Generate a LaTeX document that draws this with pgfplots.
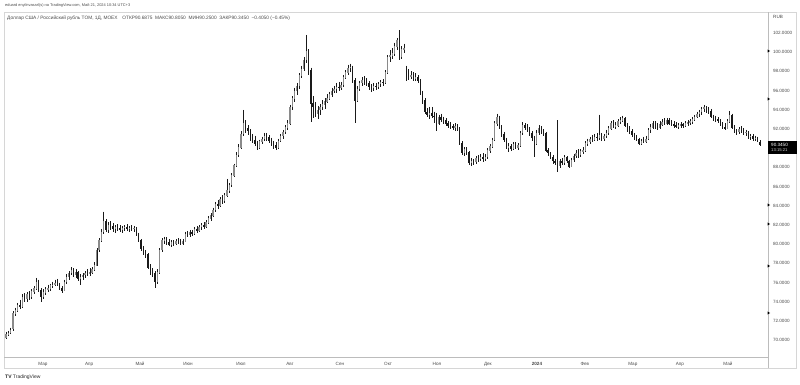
\documentclass[border=0pt]{standalone}
\usepackage{fontspec}
\setmainfont{Liberation Sans}
\usepackage{pgfplots}
\usepackage{pgfplotstable}
\pgfplotsset{compat=1.18}
\definecolor{txt}{HTML}{4A4A4A}
\definecolor{brd}{HTML}{D6D6D6}
\definecolor{upc}{HTML}{8A8A8A}
\definecolor{dnc}{HTML}{1A1A1A}
\pgfplotstableread{
i o h l c
0 70.3 70.9 70.1 70.6
1 70.6 71.0 70.4 70.8
2 70.8 71.3 70.6 71.1
3 71.2 73.0 71.0 72.8
4 72.8 73.4 72.5 73.1
5 73.1 73.9 72.9 73.7
6 73.7 74.2 73.3 73.5
7 73.5 74.8 73.4 74.5
8 74.5 74.9 74.0 74.3
9 74.3 75.0 74.0 74.8
10 74.8 75.1 74.2 74.5
11 74.5 75.3 74.3 75.1
12 75.1 75.6 74.8 75.4
13 75.4 76.5 75.2 76.1
14 76.1 76.3 75.0 75.2
15 75.2 75.4 74.0 74.5
16 74.5 75.3 74.3 75.0
17 75.0 75.5 74.7 75.3
18 75.3 75.8 75.0 75.4
19 75.4 75.9 75.1 75.7
20 75.7 76.1 75.4 75.8
21 75.8 76.3 75.6 76.0
22 76.0 76.4 75.6 75.8
23 75.8 76.0 75.2 75.4
24 75.4 75.6 74.9 75.2
25 75.2 76.3 75.1 76.1
26 76.1 76.9 75.9 76.6
27 76.6 77.2 76.3 77.0
28 77.0 77.6 76.8 77.3
29 77.3 77.5 76.6 76.8
30 76.8 77.4 76.5 77.1
31 77.1 77.2 76.2 76.4
32 76.4 76.9 75.8 76.6
33 76.6 77.0 76.3 76.8
34 76.8 77.2 76.5 77.0
35 77.0 77.4 76.7 76.9
36 76.9 77.5 76.7 77.1
37 77.1 77.6 76.9 77.4
38 77.4 78.1 77.2 77.8
39 77.8 79.6 77.7 79.4
40 79.4 80.6 79.2 80.4
41 80.4 81.6 80.2 81.3
42 81.3 83.4 81.1 82.4
43 82.4 82.6 81.3 81.5
44 81.5 82.3 81.2 82.0
45 82.0 82.4 81.5 81.9
46 81.9 82.2 81.3 81.6
47 81.6 82.0 81.2 81.8
48 81.8 82.1 81.4 81.7
49 81.7 82.0 81.3 81.5
50 81.5 81.9 81.2 81.7
51 81.7 82.0 81.4 81.8
52 81.8 82.1 81.4 81.6
53 81.6 81.9 81.3 81.7
54 81.7 82.0 81.4 81.6
55 81.6 81.9 81.3 81.7
56 81.7 81.8 80.9 81.1
57 81.1 81.2 80.2 80.4
58 80.4 80.5 79.3 79.5
59 79.5 79.8 78.9 79.2
60 79.2 79.4 78.6 79.0
61 79.0 79.1 77.4 77.6
62 77.6 77.9 76.8 77.3
63 77.3 77.5 76.6 77.0
64 77.0 77.2 75.4 76.1
65 76.1 77.4 75.9 77.1
66 77.1 79.6 76.9 79.4
67 79.4 80.6 79.2 80.4
68 80.4 80.8 80.0 80.5
69 80.5 80.7 79.9 80.2
70 80.2 80.5 79.8 80.0
71 80.0 80.4 79.7 80.2
72 80.2 80.4 79.8 80.1
73 80.1 80.5 79.9 80.3
74 80.3 80.6 80.0 80.2
75 80.2 80.5 79.9 80.1
76 80.1 80.5 79.9 80.3
77 80.3 81.3 80.2 81.1
78 81.1 81.4 80.8 81.0
79 81.0 81.5 80.7 81.3
80 81.3 81.5 80.9 81.1
81 81.1 81.8 81.0 81.6
82 81.6 81.9 81.2 81.4
83 81.4 82.0 81.3 81.8
84 81.8 82.2 81.5 82.0
85 82.0 82.3 81.6 81.8
86 81.8 82.5 81.7 82.3
87 82.3 82.9 82.1 82.7
88 82.7 83.2 82.4 83.0
89 83.0 83.8 82.8 83.6
90 83.6 84.4 83.4 84.2
91 84.2 84.6 83.7 84.0
92 84.0 84.9 83.9 84.7
93 84.7 85.1 84.2 84.5
94 84.5 85.3 84.3 85.1
95 85.1 86.8 84.9 85.6
96 85.6 86.4 85.3 86.2
97 86.2 87.4 86.0 87.2
98 87.2 88.4 87.0 88.2
99 88.2 89.6 88.0 89.3
100 89.3 90.4 89.1 90.1
101 90.1 91.8 89.9 91.5
102 91.5 94.0 91.3 92.6
103 92.6 92.9 91.6 92.1
104 92.1 92.4 91.4 91.8
105 91.8 92.0 90.8 91.1
106 91.1 91.5 90.5 90.9
107 90.9 91.3 90.2 90.5
108 90.5 90.8 89.8 90.1
109 90.1 90.9 89.9 90.7
110 90.7 91.2 90.4 91.0
111 91.0 91.6 90.7 91.3
112 91.3 91.6 90.8 91.2
113 91.2 91.4 90.5 90.8
114 90.8 91.1 90.2 90.5
115 90.5 90.8 89.9 90.3
116 90.3 90.6 89.8 90.1
117 90.1 91.0 89.9 90.8
118 90.8 91.5 90.6 91.3
119 91.3 91.9 91.0 91.7
120 91.7 92.4 91.5 92.2
121 92.2 92.9 91.9 92.6
122 92.6 94.5 92.4 94.3
123 94.3 95.4 94.0 95.2
124 95.2 96.3 94.8 96.0
125 96.0 96.8 95.5 96.5
126 96.5 97.8 96.2 97.6
127 97.6 98.6 97.3 98.3
128 98.3 99.5 98.0 99.2
129 99.2 101.8 98.9 100.1
130 100.1 100.3 97.6 98.1
131 98.1 98.4 92.7 94.7
132 94.7 95.4 93.1 94.3
133 94.3 94.8 93.2 93.6
134 93.6 94.4 93.0 94.0
135 94.0 94.6 93.5 94.3
136 94.3 95.0 94.0 94.6
137 94.6 95.2 94.1 94.9
138 94.9 95.6 94.7 95.2
139 95.2 95.9 95.0 95.6
140 95.6 96.3 95.3 96.0
141 96.0 96.5 95.7 96.2
142 96.2 96.8 95.8 96.4
143 96.4 96.9 96.0 96.3
144 96.3 96.9 96.1 96.6
145 96.6 97.6 96.4 97.4
146 97.4 98.1 97.2 97.9
147 97.9 98.7 97.6 98.4
148 98.4 98.8 97.9 98.5
149 98.5 98.6 96.8 97.1
150 97.1 97.3 92.6 95.0
151 95.0 96.5 94.8 96.2
152 96.2 97.0 96.0 96.8
153 96.8 97.4 96.5 97.1
154 97.1 97.5 96.6 96.9
155 96.9 97.3 96.5 96.8
156 96.8 97.0 96.1 96.4
157 96.4 96.7 95.9 96.3
158 96.3 96.8 96.0 96.5
159 96.5 96.8 96.1 96.4
160 96.4 96.9 96.2 96.7
161 96.7 97.1 96.4 96.9
162 96.9 97.2 96.5 96.8
163 96.8 98.1 96.7 97.9
164 97.9 99.7 97.7 99.5
165 99.5 100.2 99.0 99.7
166 99.7 100.4 99.3 99.9
167 99.9 101.0 99.6 100.6
168 100.6 101.5 100.2 101.3
169 101.3 102.3 99.2 99.5
170 99.5 100.6 99.3 100.3
171 100.3 100.9 99.9 100.4
172 98.3 98.6 97.0 97.8
173 97.8 98.2 97.1 97.5
174 97.5 98.0 97.2 97.6
175 97.6 97.9 97.0 97.3
176 97.3 97.8 97.0 97.4
177 97.4 97.6 96.8 97.1
178 97.1 97.2 95.5 95.8
179 95.8 96.0 94.6 95.0
180 95.0 95.2 93.6 93.8
181 93.8 94.2 93.2 93.5
182 93.5 94.3 93.0 93.7
183 93.7 94.3 93.1 93.4
184 93.4 93.8 92.6 93.3
185 93.3 93.7 91.8 92.6
186 92.6 93.5 92.4 93.3
187 93.3 93.6 92.7 93.0
188 93.0 93.3 92.5 92.9
189 92.9 93.1 92.3 92.6
190 92.6 92.8 92.1 92.4
191 92.4 92.7 92.0 92.3
192 92.3 92.5 91.9 92.2
193 92.2 92.6 91.8 92.3
194 92.3 92.5 91.8 92.1
195 92.1 92.2 90.3 90.5
196 90.5 90.7 89.3 89.5
197 89.5 90.1 89.2 89.9
198 89.9 90.1 89.3 89.6
199 89.6 89.7 88.3 88.5
200 88.5 89.0 88.1 88.7
201 88.7 88.9 88.2 88.6
202 88.6 89.2 88.4 89.0
203 89.0 89.3 88.6 88.9
204 88.9 89.4 88.7 89.1
205 89.1 89.5 88.6 88.9
206 88.9 89.4 88.7 89.1
207 89.1 90.0 88.9 89.8
208 89.8 90.4 89.5 90.2
209 90.2 91.1 90.0 90.9
210 90.9 92.8 90.7 92.6
211 92.6 93.6 92.3 93.3
212 93.3 93.4 92.0 92.2
213 92.2 92.4 91.2 91.5
214 91.5 91.7 90.6 90.9
215 90.9 91.1 89.9 90.1
216 90.1 90.5 89.6 90.2
217 90.2 90.4 89.7 90.0
218 90.0 90.6 89.8 90.4
219 90.4 90.6 89.9 90.1
220 90.1 90.5 89.8 90.3
221 90.3 91.8 90.1 91.6
222 91.6 92.7 91.4 92.4
223 92.4 92.6 91.9 92.2
224 92.2 92.5 91.7 92.1
225 92.1 92.2 91.3 91.6
226 91.6 91.8 90.8 91.1
227 91.1 91.3 89.1 90.5
228 90.5 91.9 90.3 91.6
229 91.6 92.4 91.4 92.1
230 92.1 92.3 91.5 91.9
231 91.9 92.0 91.3 91.6
232 91.6 91.7 89.6 89.8
233 89.8 90.0 89.2 89.5
234 89.5 89.6 88.9 89.1
235 89.1 89.3 88.4 88.7
236 88.7 88.9 88.2 88.5
237 88.5 92.9 87.5 88.2
238 88.2 88.9 87.9 88.7
239 88.7 89.0 88.2 88.5
240 88.5 89.3 88.3 89.1
241 89.1 89.2 88.5 88.7
242 88.7 88.8 87.9 88.1
243 88.1 89.0 88.0 88.8
244 88.8 89.4 88.6 89.2
245 89.2 89.8 89.0 89.5
246 89.5 89.9 89.0 89.3
247 89.3 89.9 89.1 89.7
248 89.7 90.1 89.4 89.8
249 89.8 90.7 89.6 90.5
250 90.5 91.0 90.2 90.7
251 90.7 91.2 90.4 91.0
252 91.0 91.4 90.6 90.9
253 90.9 91.5 90.7 91.2
254 91.2 91.6 90.8 91.1
255 91.1 93.5 90.9 91.4
256 91.4 91.6 90.7 91.0
257 91.0 91.5 90.8 91.3
258 91.3 91.9 91.1 91.6
259 91.6 92.3 91.4 92.1
260 92.1 92.8 91.9 92.6
261 92.6 92.9 92.1 92.3
262 92.3 92.7 92.0 92.4
263 92.4 93.0 92.2 92.8
264 92.8 93.2 92.5 92.9
265 92.9 93.4 92.7 93.1
266 93.1 93.2 92.2 92.4
267 92.4 92.6 91.7 91.9
268 91.9 92.3 91.5 91.8
269 91.8 92.0 91.2 91.4
270 91.4 91.6 90.9 91.2
271 91.2 91.4 90.7 91.0
272 91.0 91.1 90.3 90.5
273 90.5 91.0 90.3 90.8
274 90.8 91.2 90.5 90.7
275 90.7 91.3 90.5 91.0
276 91.0 92.1 90.9 91.9
277 91.9 92.5 91.6 92.2
278 92.2 92.8 92.0 92.6
279 92.6 92.8 92.0 92.3
280 92.3 92.6 91.9 92.2
281 92.2 92.8 92.0 92.5
282 92.5 93.0 92.3 92.7
283 92.7 93.1 92.4 92.6
284 92.6 93.1 92.4 92.9
285 92.9 93.1 92.4 92.6
286 92.6 92.9 92.3 92.5
287 92.5 92.8 92.1 92.4
288 92.4 92.7 92.1 92.3
289 92.3 92.6 92.0 92.4
290 92.4 92.7 92.1 92.5
291 92.5 92.6 92.1 92.4
292 92.4 92.8 92.2 92.6
293 92.6 92.9 92.3 92.7
294 92.7 93.0 92.4 92.8
295 92.8 93.2 92.5 93.0
296 93.0 93.5 92.8 93.3
297 93.3 93.8 93.1 93.6
298 93.6 94.0 93.3 93.8
299 93.8 94.3 93.5 94.1
300 94.1 94.5 93.8 94.3
301 94.3 94.4 93.7 94.0
302 94.0 94.3 93.6 93.9
303 93.9 94.1 93.1 93.3
304 93.3 93.5 92.8 93.1
305 93.1 93.4 92.7 93.0
306 93.0 93.2 92.6 92.9
307 92.9 93.0 92.3 92.5
308 92.5 92.7 92.0 92.2
309 92.2 92.6 91.9 92.1
310 92.1 93.0 92.0 92.8
311 92.8 93.9 92.6 93.5
312 93.5 93.6 92.0 92.2
313 92.2 92.4 91.6 91.9
314 91.9 92.0 91.4 91.7
315 91.7 92.2 91.5 92.0
316 92.0 92.3 91.6 91.9
317 91.9 92.1 91.4 91.6
318 91.6 91.9 91.3 91.7
319 91.7 91.8 91.0 91.2
320 91.2 91.5 90.9 91.3
321 91.3 91.5 90.8 91.0
322 91.0 91.3 90.7 91.1
323 91.1 91.2 90.6 90.75
324 90.6875 90.805 90.25 90.345
}\data
\begin{document}
\begin{tikzpicture}
\useasboundingbox (0,0) rectangle (800pt,384pt);
% outer frame and separators
\draw[brd, line width=0.6pt] (4pt,16pt) rectangle (796pt,372pt);
\draw[brd!70!gray, line width=0.6pt] (768pt,16pt) -- (768pt,372pt);
\draw[brd!70!gray, line width=0.6pt] (4pt,27pt) -- (768pt,27pt);
\begin{axis}[
  at={(4pt,27pt)}, anchor=south west,
  scale only axis, width=764pt, height=345pt,
  xmin=-0.86, xmax=327.5, ymin=68.25, ymax=104.1875,
  axis line style={draw=none}, tick style={draw=none},
  major tick length=0pt,
  xtick={15.9,35.7,57.6,78.2,101.0,122.0,143.5,164.2,185.2,207.1,228.2,248.8,269.4,289.6,310.3},
  xticklabels={Мар,Апр,Май,Июн,Июл,Авг,Сен,Окт,Ноя,Дек,\textbf{2024},Фев,Мар,Апр,Май},
  xticklabel style={font=\fontsize{4.6}{5}\selectfont, text=txt, yshift=-1.5pt},
  ytick={70,72,74,76,78,80,82,84,86,88,92,94,96,98,100,102},
  yticklabel pos=right,
  yticklabel style={font=\fontsize{4.6}{5}\selectfont, text=txt, anchor=west, xshift=1.5pt,
    /pgf/number format/.cd, fixed, fixed zerofill, precision=4, 1000 sep={}},
  /pgf/number format/assume math mode=true,
  clip=true,
]
% wicks
\addplot[draw=none, mark=none, forget plot,
  error bars/.cd, y dir=minus, y explicit, error mark=none,
  error bar style={line width=0.45pt, draw=dnc}]
  table[x=i, y=h, y error minus expr=\thisrow{h}-\thisrow{l}] {\data};
% up bodies
\addplot[draw=none, mark=none, forget plot,
  x filter/.expression={\thisrow{c}>=\thisrow{o} ? x : nan},
  error bars/.cd, y dir=minus, y explicit, error mark=none,
  error bar style={line width=1.3pt, draw=upc}]
  table[x=i, y=c, y error minus expr={\thisrow{c}-\thisrow{o}+0.05}] {\data};
% down bodies
\addplot[draw=none, mark=none, forget plot,
  x filter/.expression={\thisrow{c}<\thisrow{o} ? x : nan},
  error bars/.cd, y dir=minus, y explicit, error mark=none,
  error bar style={line width=1.3pt, draw=dnc}]
  table[x=i, y=o, y error minus expr={\thisrow{o}-\thisrow{c}+0.05}] {\data};
\end{axis}
% header texts
\node[anchor=west, inner sep=0pt, text=txt, font=\fontsize{3.9}{4.5}\selectfont] at (5pt,379pt)
  {eduard enyilnvasarl(s) на TradingView.com, Май 21, 2024 10:34 UTC+3};
\node[anchor=west, inner sep=0pt, text=txt, font=\fontsize{4.8}{5.5}\selectfont] at (7pt,366pt)
  {Доллар США / Российский рубль TOM, 1Д, MOEX\quad ОТКР90.6875\ \ МАКС90.8050\ \ МИН90.2500\ \ ЗАКР90.3450\ \ −0.4050 (−0.45\%)};
\node[anchor=west, inner sep=0pt, text=txt, font=\fontsize{4.6}{5}\selectfont] at (773pt,367pt) {RUB};
% last price tag
\fill[black] (768pt,230pt) rectangle (797pt,243pt);
\node[anchor=west, inner sep=0pt, text=white, font=\fontsize{4.6}{5}\selectfont] at (771pt,239.5pt) {90.3450};
\node[anchor=west, inner sep=0pt, text=white!80!black, font=\fontsize{4.2}{5}\selectfont] at (771pt,233.5pt) {13:15:21};
% scale markers
\foreach \yy in {333,285,179,160,118,71}{
  \fill[black] (767.5pt,\yy pt+1.6pt) -- (770pt,\yy pt) -- (767.5pt,\yy pt-1.6pt) -- cycle;
}
% footer logo
\node[anchor=west, inner sep=0pt, text=black!85, font=\fontsize{5}{6}\selectfont] at (5pt,7pt)
  {\textbf{TV} TradingView};
\end{tikzpicture}
\end{document}
